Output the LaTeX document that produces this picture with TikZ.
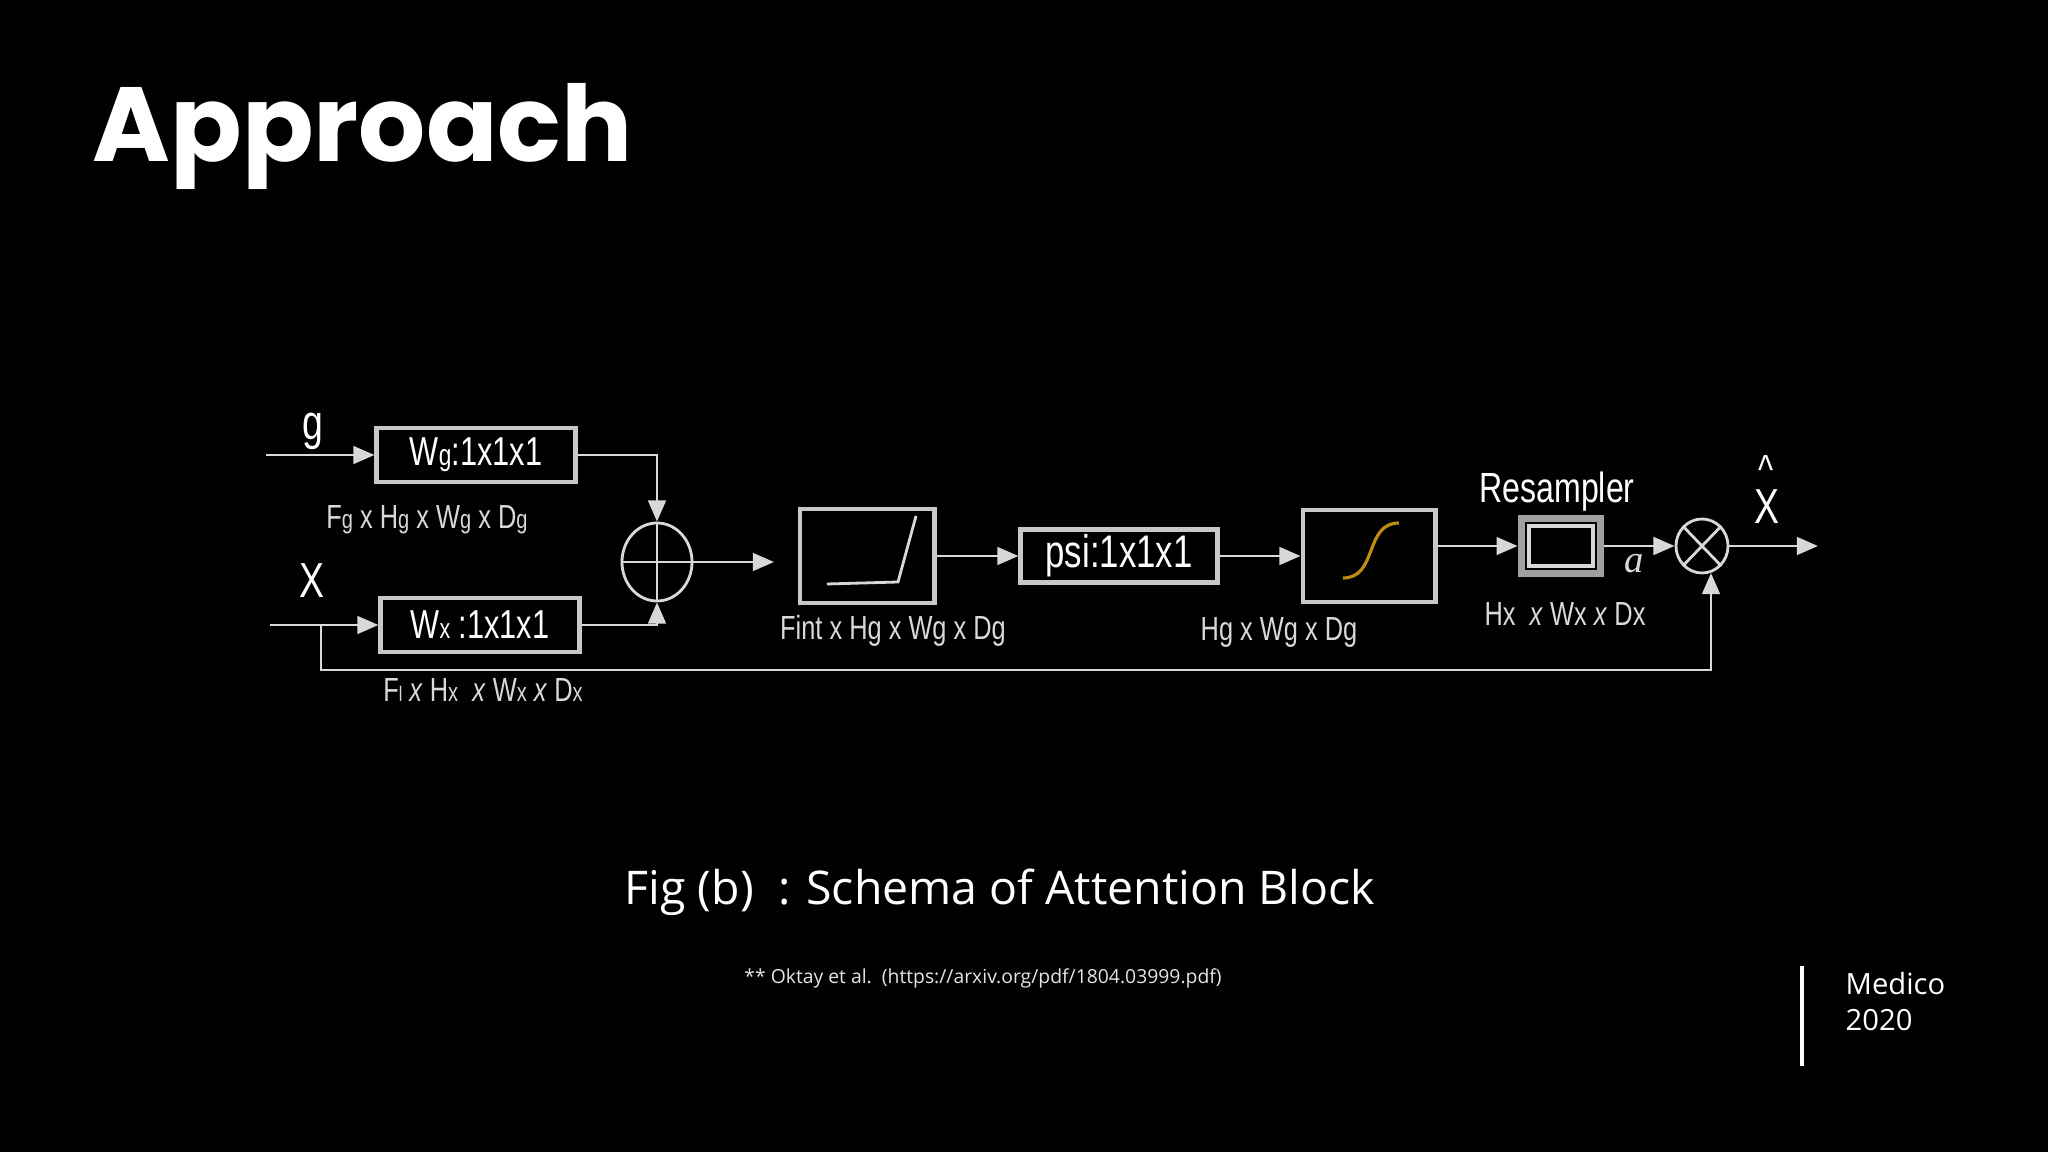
\documentclass[tikz,border=0pt]{standalone}
\usepackage{fontspec}
\setmainfont{Liberation Sans}
\newfontfamily\poppins{Poppins}
\newfontfamily\opensans{Open Sans}
\usetikzlibrary{arrows.meta,shapes.geometric}
\definecolor{ln}{HTML}{D8D8D8}
\definecolor{bx}{HTML}{C8C8C8}
\tikzset{
  wire/.style={draw=ln,line width=0.8pt},
  arr/.style={wire,-{Triangle[length=6pt,width=5pt]}},
  blk/.style={draw=bx,line width=1.4pt,inner sep=0pt,text=white},
  lab/.style={text=white!85!black,inner sep=0pt,font=\fontsize{8}{9}\selectfont},
  big/.style={text=white,inner sep=0pt,font=\fontsize{11.5}{12}\selectfont},
}
\newcommand{\nar}[1]{\scalebox{0.76}[1]{#1}}
\begin{document}
\begin{tikzpicture}[x=0.01cm,y=-0.01cm]
\fill[black] (0,0) rectangle (2048,1152);
\useasboundingbox (0,0) rectangle (2048,1152);
\node[anchor=west,text=white,inner sep=0pt,font=\poppins\bfseries\fontsize{30}{34}\selectfont] (title) at (92,137) {Approach};

% nodes
\node[blk,minimum width=1.98cm,minimum height=0.54cm] (wg) at (476,455) {\nar{\fontsize{11.5}{12}\selectfont W{\fontsize{8.5}{9}\selectfont g}:1x1x1}};
\node[blk,minimum width=1.98cm,minimum height=0.54cm] (wx) at (480,625) {\nar{\fontsize{11.5}{12}\selectfont W{\fontsize{8}{9}\selectfont x} :1x1x1}};
\node[big] (g) at (313,431) {\nar{\fontsize{14}{15}\selectfont g}};
\node[big] (x) at (312,581) {\nar{\fontsize{14}{15}\selectfont X}};
\coordinate (gin) at (266,455);
\coordinate (xin) at (270,625);
\coordinate (br) at (321,625);
\node[lab] (fg) at (427,520) {\nar{\fontsize{9.5}{11}\selectfont F{\fontsize{7.5}{8}\selectfont g} x H{\fontsize{7.5}{8}\selectfont g} x W{\fontsize{7.5}{8}\selectfont g} x D{\fontsize{7.5}{8}\selectfont g}}};
\node[lab] (f1) at (483,690) {\nar{\fontsize{9.5}{11}\selectfont F{\fontsize{6}{7}\selectfont l} \textit{x} H{\fontsize{7.5}{8}\selectfont x}\ \ \textit{x} W{\fontsize{7.5}{8}\selectfont x} \textit{x} D{\fontsize{7.5}{8}\selectfont x}}};

\node[ellipse,draw=ln,line width=0.8pt,minimum width=0.7cm,minimum height=0.78cm,inner sep=0pt] (sum) at (657,562) {};
\draw[wire] (sum.north) -- (sum.south) (sum.west) -- (sum.east);

\node[blk,minimum width=1.34cm,minimum height=0.94cm] (relu) at (867,556) {};
\draw[wire] (827,584) -- (898,582) -- (916,516);
\node[lab] (fint) at (893,631) {\nar{\fontsize{9.5}{11}\selectfont Fint x Hg x Wg x Dg}};

\node[blk,minimum width=1.96cm,minimum height=0.53cm] (psi) at (1119,556) {\nar{\fontsize{13}{14}\selectfont psi:1x1x1}};

\node[blk,minimum width=1.32cm,minimum height=0.92cm] (sig) at (1369,556) {};
\draw[draw={rgb,255:red,190;green,140;blue,20},line width=0.9pt] (1343,578) .. controls (1378,578) and (1364,523) .. (1399,523);
\node[lab] (hg) at (1279,632) {\nar{\fontsize{9.5}{11}\selectfont Hg x Wg x Dg}};

\node[draw=bx!80!black,line width=2.2pt,minimum width=0.79cm,minimum height=0.55cm,inner sep=0pt] (res) at (1561,546) {};
\draw[draw=ln,line width=1pt] (1529,526) rectangle (1593,566);
\node[big] (reslab) at (1557,492) {\nar{\fontsize{12}{13}\selectfont Resampler}};
\node[lab] (alab) at (1634,564) {\fontsize{11}{12}\selectfont\itshape\fontspec{Liberation Serif}a};
\node[lab] (hx) at (1565,614) {\nar{\fontsize{9.5}{11}\selectfont Hx\ \ \textit{x} Wx \textit{x} Dx}};

\node[ellipse,draw=ln,line width=0.8pt,minimum width=0.52cm,minimum height=0.54cm,inner sep=0pt] (mul) at (1702,546) {};
\draw[wire] (mul.north east) -- (mul.south west) (mul.north west) -- (mul.south east);
\coordinate (out) at (1818,546);
\coordinate (mb) at (1711,573);
\coordinate (r1) at (774,562);
\node[big] (hat) at (1766,470) {\nar{\fontsize{12}{13}\selectfont\^{}}};
\node[big] (xh) at (1767,507) {\nar{\fontsize{14}{15}\selectfont X}};

% connectors
\draw[arr] (gin) -- (wg.west);
\draw[arr] (xin) -- (wx.west);
\draw[arr] (wg.east) -| (sum.north);
\draw[arr] (wx.east) -| (sum.south);
\draw[arr] (sum.east) -- (r1);
\draw[arr] (relu.east) -- (psi.west);
\draw[arr] (psi.east) -- (sig.west);
\draw[arr] (sig.east |- res.west) -- (res.west);
\draw[arr] (res.east) -- (mul.west);
\draw[arr] (mul.east) -- (out);
\draw[arr] (br) |- (1711,670) -- (mb);

% caption
\node[text=white,inner sep=0pt,font=\opensans\fontsize{13.2}{15}\selectfont] (cap) at (1000,892) {Fig (b)\ \ : Schema of Attention Block};
\node[text=white!90!black,inner sep=0pt,font=\opensans\fontsize{5.5}{7}\selectfont] (ref) at (983,978) {** Oktay et al.\ \ (https://arxiv.org/pdf/1804.03999.pdf)};
\draw[white,line width=1.3pt] (1802,966) -- (1802,1066);
\node[anchor=north west,align=left,text=white,inner sep=0pt,font=\opensans\fontsize{8.3}{10}\selectfont] (med) at (1845,972) {Medico\\2020};
\end{tikzpicture}
\end{document}
